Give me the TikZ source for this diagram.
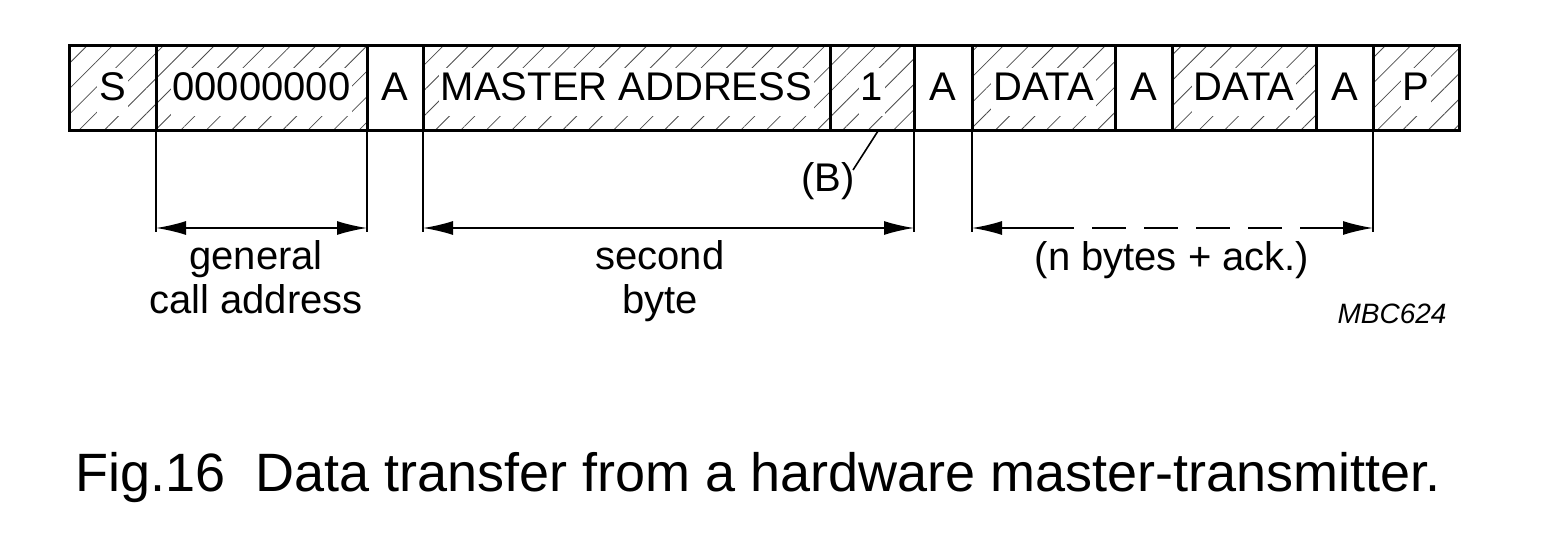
\documentclass[tikz,border=0pt]{standalone}
\usepackage{fontspec}
\setmainfont{Liberation Sans}
\usetikzlibrary{patterns.meta,arrows.meta}
\begin{document}
\begin{tikzpicture}[x=0.5pt,y=-0.5pt,
 cell/.style={draw,line width=1.5pt},
 hat/.style={cell,pattern={Lines[angle=45,distance=9pt,line width=0.4pt]},pattern color=black!70},
 txt/.style={font=\fontsize{20}{22}\selectfont,inner sep=1pt,fill=white},
 lbl/.style={font=\fontsize{20}{22}\selectfont,align=center},
 tick/.style={line width=0.8pt},
 arr/.style={line width=0.8pt,{Latex[length=15pt,width=7pt]}-{Latex[length=15pt,width=7pt]}}]
\useasboundingbox (0,0) rectangle (1563,540);
\def\ya{46}\def\yb{131}
\foreach \a/\b/\s/\t [count=\i] in {69/156/hat/S,156/367/hat/00000000,367/423/cell/A,423/830/hat/MASTER ADDRESS,830/914/hat/1,914/972/cell/A,972/1115/hat/DATA,1115/1172/cell/A,1172/1316/hat/DATA,1316/1373/cell/A,1373/1459/hat/P}{
 \draw[\s] (\a,\ya) rectangle (\b,\yb);
 \node[txt] (c\i) at ({(\a+\b)/2},92) {\t\strut};
}
\foreach \x/\n in {156/p1,367/p2,423/p3,914/p4,972/p5,1373/p6}{
 \draw[tick] (\x,\yb) -- (\x,232);
 \coordinate (\n) at (\x,228);
}
\coordinate (d1) at (1040,228);
\coordinate (d2) at (1305,228);
\draw[arr] (p1) -- (p2);
\draw[arr] (p3) -- (p4);
\draw[line width=0.8pt,{Latex[length=15pt,width=7pt]}-] (p5) -- (d1);
\draw[line width=0.8pt,-{Latex[length=15pt,width=7pt]}] (d2) -- (p6);
\draw[line width=0.8pt,dash pattern=on 17pt off 9pt] (d1) -- (d2);
\node[lbl] (g) at (256,283) {general\strut\\call address\strut};
\node[lbl] (s) at (660,283) {second\strut\\byte\strut};
\node[lbl] (n) at (1172,262) {(n bytes + ack.)\strut};
\node[lbl] (b) at (828,183) {(B)\strut};
\coordinate (bt) at (878,131);
\draw[line width=0.8pt] (853,170) -- (bt);
\node[font=\itshape\fontsize{14}{16}\selectfont] (m) at (1392,314) {MBC624};
\node[font=\fontsize{27}{30}\selectfont,anchor=west] (cap) at (68,478) {Fig.16\ \ Data transfer from a hardware master-transmitter.};
\end{tikzpicture}
\end{document}
